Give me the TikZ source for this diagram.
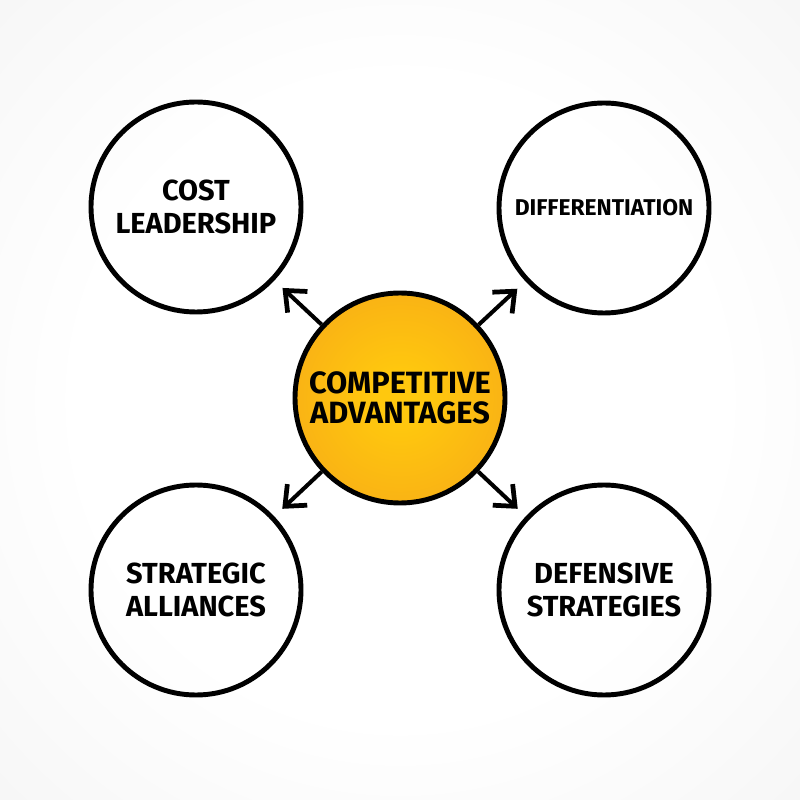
\documentclass[tikz,border=0pt]{standalone}
\usepackage{fontspec}
\setmainfont{Fira Sans}
\usetikzlibrary{arrows.meta}
\definecolor{hubinner}{HTML}{FFC80E}
\definecolor{hubouter}{HTML}{F5A11A}
\definecolor{bgedge}{HTML}{E4E4E4}
\pgfdeclareradialshading{bgfade}{\pgfpoint{0bp}{0bp}}{color(0bp)=(white); color(20bp)=(white); color(71bp)=(bgedge)}
\pgfdeclareradialshading{hubfade}{\pgfpoint{0bp}{0bp}}{color(0bp)=(hubinner); color(6bp)=(hubinner); color(42bp)=(hubouter); color(50bp)=(hubouter)}
\tikzset{
  bubble/.style={circle,draw,line width=2.8pt,minimum size=4.2cm,inner sep=0pt,align=center,font=\fontsize{16.5}{19}\selectfont\bfseries},
  hub/.style={bubble,shade,shading=hubfade,font=\fontsize{17.5}{17}\selectfont\bfseries},
  spoke/.style={line width=2.3pt,-{Straight Barb[length=0.34cm,width=0.58cm,line width=2.7pt]},shorten >=0.22cm}
}
\begin{document}
\begin{tikzpicture}[x=1.0cm,y=1.0cm]
  \shade[shading=bgfade] (-8,-8.04) rectangle (8,7.96);
  \useasboundingbox (-8,-8.04) rectangle (8,7.96);
  \node[hub] (hub) at (0,0) {COMPETITIVE\\ADVANTAGES};
  \node[bubble] (cost) at (-4.08,3.82) {COST\\LEADERSHIP};
  \node[bubble,font=\fontsize{13}{15}\selectfont\bfseries] (diff) at (4.08,3.8) {DIFFERENTIATION};
  \node[bubble] (alli) at (-4.08,-3.84) {STRATEGIC\\ALLIANCES};
  \node[bubble] (defe) at (4.08,-3.84) {DEFENSIVE\\STRATEGIES};
  \draw[spoke] (hub) -- (cost);
  \draw[spoke] (hub) -- (diff);
  \draw[spoke] (hub) -- (alli);
  \draw[spoke] (hub) -- (defe);
\end{tikzpicture}
\end{document}
